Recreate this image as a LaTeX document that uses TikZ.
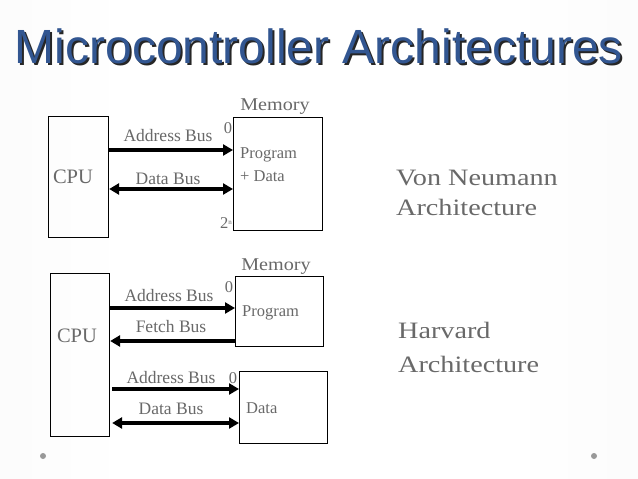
\documentclass[tikz,border=0pt]{standalone}
\usepackage{fontspec}
\setmainfont{Liberation Serif}
\newfontfamily\titlefont{Liberation Sans}
\newfontfamily\widefont[FakeStretch=1.2]{Liberation Serif}
\newfontfamily\midfont[FakeStretch=1.12]{Liberation Serif}
\usetikzlibrary{arrows.meta}
\definecolor{titleblue}{RGB}{50,86,145}
\definecolor{txtgray}{RGB}{105,105,105}
\definecolor{edgegray}{RGB}{212,212,212}
\pgfdeclarehorizontalshading{slidebg}{100bp}{color(0bp)=(edgegray); color(12bp)=(white!97!black); color(35bp)=(white); color(65bp)=(white); color(88bp)=(white!97!black); color(100bp)=(edgegray)}
\begin{document}
\begin{tikzpicture}[x=1pt,y=-1pt,
  box/.style={draw=black, line width=1.1pt, inner sep=0pt, anchor=north west},
  lbl/.style={text=txtgray, inner sep=0pt, font=\fontsize{17.5}{18}\selectfont},
  small/.style={text=txtgray, inner sep=0pt, font=\fontsize{16.5}{18}\selectfont},
  memlbl/.style={text=txtgray, inner sep=0pt, font=\midfont\fontsize{18}{20}\selectfont},
  cpulbl/.style={text=txtgray, inner sep=0pt, font=\fontsize{20.5}{22}\selectfont},
  archlbl/.style={text=txtgray, inner sep=0pt, anchor=base west, font=\widefont\fontsize{23.5}{30}\selectfont},
  bus/.style={line width=3.6pt, -{Triangle[length=10pt,width=11pt]}},
  dbus/.style={line width=3.6pt, {Triangle[length=10pt,width=11pt]}-{Triangle[length=10pt,width=11pt]}},
  dot/.style={circle, fill=gray!80, inner sep=0pt, minimum size=6pt}]
\useasboundingbox (0,0) rectangle (638,479);
\shade[shading=slidebg] (0,0) rectangle (638,479);

% title with shadow
\node[font=\titlefont\fontsize{48}{50}\selectfont, inner sep=0pt] (title) at (319,47)
  {\rlap{\raisebox{-2pt}{\hspace{2pt}\textcolor{black!85}{Microcontroller Architectures}}}\textcolor{titleblue}{Microcontroller Architectures}};

% Von Neumann
\node[box, minimum width=60pt, minimum height=121pt] (cpuA) at (48,116) {};
\node[box, minimum width=89pt, minimum height=113pt] (memA) at (233,117) {};
\node[cpulbl] (cpuAt) at (73,177) {CPU};
\node[memlbl] (memAt) at (275,107) {Memory};
\node[small, anchor=west] (pdA) at (240,155) {Program};
\node[small, anchor=west] (pdB) at (240,176) {+ Data};
\node[small] (zA) at (228,128) {0};
\node[small] (nA) at (226,223) {2\raisebox{0.55ex}{\fontsize{7}{8}\selectfont n}};
\coordinate (a1) at (0,150);
\coordinate (d1) at (0,189);
\draw[bus] (cpuA.east |- a1) -- (memA.west |- a1);
\draw[dbus] (cpuA.east |- d1) -- (memA.west |- d1);
\node[lbl] (abA) at (168,136) {Address Bus};
\node[lbl] (dbA) at (168,179) {Data Bus};
\node[archlbl] (vn1) at (396,185) {Von Neumann};
\node[archlbl] (vn2) at (396,215) {Architecture};

% Harvard
\node[box, minimum width=59pt, minimum height=163pt] (cpuB) at (50,273) {};
\node[box, minimum width=88pt, minimum height=70pt] (prog) at (235,276) {};
\node[box, minimum width=88pt, minimum height=72pt] (data) at (239,371) {};
\node[cpulbl] (cpuBt) at (77,336) {CPU};
\node[memlbl] (memBt) at (276,267) {Memory};
\node[small, anchor=west] (progt) at (242,313) {Program};
\node[small, anchor=west] (datat) at (246,408) {Data};
\node[small] (zB) at (229,287) {0};
\node[small] (zC) at (233,378) {0};
\coordinate (a2) at (0,308);
\coordinate (f2) at (0,341);
\coordinate (a3) at (0,389);
\coordinate (d3) at (0,423);
\draw[bus] (cpuB.east |- a2) -- (prog.west |- a2);
\draw[bus] (prog.west |- f2) -- (cpuB.east |- f2);
\draw[bus] ([xshift=2pt]cpuB.east |- a3) -- (data.west |- a3);
\draw[dbus] ([xshift=2pt]cpuB.east |- d3) -- (data.west |- d3);
\node[lbl] (abB) at (169,296) {Address Bus};
\node[lbl] (fbB) at (171,327) {Fetch Bus};
\node[lbl] (abC) at (171,378) {Address Bus};
\node[lbl] (dbC) at (171,409) {Data Bus};
\node[archlbl] (hv1) at (398,338) {Harvard};
\node[archlbl] (hv2) at (398,372) {Architecture};

% bullets
\node[dot] (b1) at (43,456) {};
\node[dot] (b2) at (594,456) {};
\end{tikzpicture}
\end{document}
